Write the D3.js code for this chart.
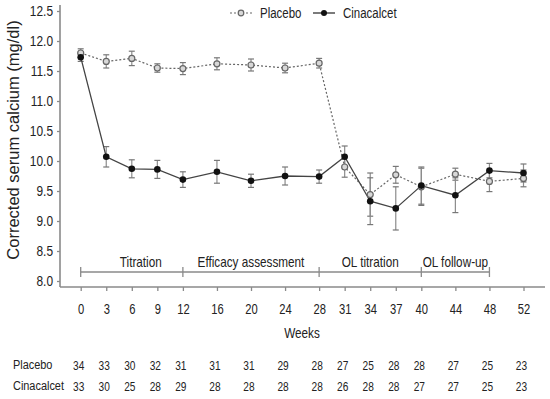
<!DOCTYPE html>
<html>
<head>
<meta charset="utf-8">
<script src="https://cdn.jsdelivr.net/npm/d3@7"></script>
<style>
  body { margin: 0; background: #fff; }
  svg text { font-family: "Liberation Sans", Arial, sans-serif; fill: #222; }
</style>
</head>
<body>
<div id="chart"></div>
<script>
// weeks on the x axis
var weeks = [0, 3, 6, 9, 12, 16, 20, 24, 28, 31, 34, 37, 40, 44, 48, 52];

// mean corrected serum calcium (mg/dl) and error half-widths
var placeboMean = [11.80, 11.66, 11.71, 11.55, 11.54, 11.62, 11.60, 11.55, 11.63, 9.90, 9.44, 9.77, 9.57, 9.78, 9.66, 9.71];
var placeboErr  = [0.07, 0.11, 0.12, 0.07, 0.10, 0.10, 0.10, 0.08, 0.08, 0.17, 0.36, 0.14, 0.31, 0.10, 0.17, 0.14];
var cinaMean    = [11.73, 10.07, 9.87, 9.86, 9.69, 9.82, 9.67, 9.75, 9.74, 10.07, 9.33, 9.21, 9.59, 9.43, 9.84, 9.80];
var cinaErr     = [0.07, 0.17, 0.15, 0.15, 0.13, 0.19, 0.11, 0.15, 0.11, 0.18, 0.39, 0.36, 0.31, 0.29, 0.12, 0.15];

// patients at each visit
var placeboN = [34, 33, 30, 32, 31, 31, 31, 29, 28, 27, 25, 28, 28, 27, 25, 23];
var cinaN    = [33, 30, 25, 28, 29, 28, 28, 28, 28, 26, 28, 28, 27, 27, 25, 23];

// study phases
var phaseNames = ["Titration", "Efficacy assessment", "OL titration", "OL follow-up"];
var phaseEdges = [0, 12, 28, 40, 48];

var yTicks = [8.0, 8.5, 9.0, 9.5, 10.0, 10.5, 11.0, 11.5, 12.0, 12.5];

var width = 550, height = 399;

var svg = d3.select("#chart").append("svg")
  .attr("width", width)
  .attr("height", height);

var x = d3.scaleLinear().domain([0, 52]).range([80.7, 523.5]);
var y = d3.scaleLinear().domain([8, 12.5]).range([281, 11]);

var axisColor = "#8a8a8a";

// the original uses a condensed face; squeeze text horizontally
function condense(sel, k) {
  sel.each(function() {
    var t = d3.select(this);
    var x0 = +t.attr("x") || 0;
    t.attr("x", x0 / k).attr("transform", "scale(" + k + ",1)");
  });
}

// y axis
var yAxis = d3.axisLeft(y)
  .tickValues(yTicks)
  .tickFormat(d3.format(".1f"))
  .tickSize(3)
  .tickSizeOuter(0);

var gy = svg.append("g")
  .attr("transform", "translate(60,0)")
  .call(yAxis);
gy.select(".domain").remove();
gy.selectAll(".tick line").attr("stroke", axisColor).attr("stroke-width", 1.3);
gy.selectAll(".tick text").attr("x", -7).style("font-size", "14px").call(condense, 0.85);

// x axis
var xAxis = d3.axisBottom(x)
  .tickValues(weeks)
  .tickSize(4)
  .tickSizeOuter(0)
  .tickPadding(13);

var gx = svg.append("g")
  .attr("transform", "translate(0,287)")
  .call(xAxis);
gx.select(".domain").remove();
gx.selectAll(".tick line").attr("stroke", axisColor).attr("stroke-width", 1.3);
gx.selectAll(".tick text").style("font-size", "14px").call(condense, 0.8);

// axis lines
svg.append("line")
  .attr("x1", 60).attr("x2", 60).attr("y1", 5).attr("y2", 287)
  .attr("stroke", axisColor).attr("stroke-width", 1.6);
svg.append("line")
  .attr("x1", 60).attr("x2", 545).attr("y1", 287).attr("y2", 287)
  .attr("stroke", axisColor).attr("stroke-width", 1.6);

// axis titles
svg.append("text")
  .attr("transform", "translate(13,140) rotate(-90)")
  .attr("text-anchor", "middle")
  .attr("dominant-baseline", "central")
  .style("font-size", "16.5px")
  .text("Corrected serum calcium (mg/dl)");

svg.append("text")
  .attr("x", 302).attr("y", 333)
  .attr("text-anchor", "middle")
  .attr("dominant-baseline", "central")
  .style("font-size", "14px")
  .text("Weeks")
  .call(condense, 0.84);

// phase bar
var phaseY = 272;
svg.append("line")
  .attr("x1", x(phaseEdges[0])).attr("x2", x(phaseEdges[phaseEdges.length - 1]))
  .attr("y1", phaseY).attr("y2", phaseY)
  .attr("stroke", axisColor).attr("stroke-width", 1.3);

svg.selectAll(".phase-tick")
  .data(phaseEdges)
  .enter().append("line")
  .attr("class", "phase-tick")
  .attr("x1", function(d) { return x(d); })
  .attr("x2", function(d) { return x(d); })
  .attr("y1", phaseY - 5).attr("y2", phaseY + 5)
  .attr("stroke", axisColor).attr("stroke-width", 1.3);

// "Titration" sits a little right of its span's middle in the original
var labelShift = [9, 0, 0, 0];
svg.selectAll(".phase-label")
  .data(phaseNames)
  .enter().append("text")
  .attr("class", "phase-label")
  .attr("x", function(d, i) { return (x(phaseEdges[i]) + x(phaseEdges[i + 1])) / 2 + labelShift[i]; })
  .attr("y", 267)
  .attr("text-anchor", "middle")
  .style("font-size", "14px")
  .text(function(d) { return d; })
  .call(condense, 0.84);

// build series
function makeSeries(means, errs) {
  return weeks.map(function(w, i) {
    return { week: w, mean: means[i], err: errs[i] };
  });
}
var placebo = makeSeries(placeboMean, placeboErr);
var cina = makeSeries(cinaMean, cinaErr);

var line = d3.line()
  .x(function(d) { return x(d.week); })
  .y(function(d) { return y(d.mean); });

function drawErrors(data, cls) {
  var g = svg.append("g").attr("class", cls);
  var e = g.selectAll("g").data(data).enter().append("g");
  e.append("line")
    .attr("x1", function(d) { return x(d.week); })
    .attr("x2", function(d) { return x(d.week); })
    .attr("y1", function(d) { return y(d.mean + d.err); })
    .attr("y2", function(d) { return y(d.mean - d.err); })
    .attr("stroke", "#8c8c8c").attr("stroke-width", 1.2);
  [1, -1].forEach(function(s) {
    e.append("line")
      .attr("x1", function(d) { return x(d.week) - 3; })
      .attr("x2", function(d) { return x(d.week) + 3; })
      .attr("y1", function(d) { return y(d.mean + s * d.err); })
      .attr("y2", function(d) { return y(d.mean + s * d.err); })
      .attr("stroke", "#777").attr("stroke-width", 1.2);
  });
}

drawErrors(placebo, "err-placebo");
drawErrors(cina, "err-cina");

// placebo line (dotted)
svg.append("path")
  .datum(placebo)
  .attr("fill", "none")
  .attr("stroke", "#666")
  .attr("stroke-width", 1.2)
  .attr("stroke-dasharray", "2,2")
  .attr("d", line);

// cinacalcet line
svg.append("path")
  .datum(cina)
  .attr("fill", "none")
  .attr("stroke", "#444")
  .attr("stroke-width", 1.3)
  .attr("d", line);

svg.selectAll(".pt-placebo")
  .data(placebo)
  .enter().append("circle")
  .attr("class", "pt-placebo")
  .attr("cx", function(d) { return x(d.week); })
  .attr("cy", function(d) { return y(d.mean); })
  .attr("r", 3)
  .attr("fill", "#d8d8d8")
  .attr("stroke", "#666")
  .attr("stroke-width", 1.2);

svg.selectAll(".pt-cina")
  .data(cina)
  .enter().append("circle")
  .attr("class", "pt-cina")
  .attr("cx", function(d) { return x(d.week); })
  .attr("cy", function(d) { return y(d.mean); })
  .attr("r", 3.3)
  .attr("fill", "#111");

// legend
var legY = 13;
svg.append("line")
  .attr("x1", 230).attr("x2", 252).attr("y1", legY).attr("y2", legY)
  .attr("stroke", "#666").attr("stroke-width", 1.2).attr("stroke-dasharray", "2,2");
svg.append("circle")
  .attr("cx", 241).attr("cy", legY).attr("r", 2.8)
  .attr("fill", "#d8d8d8").attr("stroke", "#666").attr("stroke-width", 1.2);
svg.append("text")
  .attr("x", 260).attr("y", legY)
  .attr("dominant-baseline", "central")
  .style("font-size", "14px")
  .text("Placebo")
  .call(condense, 0.82);

svg.append("line")
  .attr("x1", 313).attr("x2", 335).attr("y1", legY).attr("y2", legY)
  .attr("stroke", "#333").attr("stroke-width", 1.3);
svg.append("circle")
  .attr("cx", 324).attr("cy", legY).attr("r", 3)
  .attr("fill", "#111");
svg.append("text")
  .attr("x", 343).attr("y", legY)
  .attr("dominant-baseline", "central")
  .style("font-size", "14px")
  .text("Cinacalcet")
  .call(condense, 0.82);

// number-at-risk table
var rows = [
  { name: "Placebo", values: placeboN, y: 365 },
  { name: "Cinacalcet", values: cinaN, y: 386 }
];

rows.forEach(function(r) {
  svg.append("text")
    .attr("x", 13).attr("y", r.y)
    .attr("dominant-baseline", "central")
    .style("font-size", "13.5px")
    .text(r.name)
    .call(condense, 0.81);
  svg.selectAll(null)
    .data(r.values)
    .enter().append("text")
    .attr("x", function(d, i) { return x(weeks[i]) - 2; })
    .attr("y", r.y)
    .attr("text-anchor", "middle")
    .attr("dominant-baseline", "central")
    .style("font-size", "13.5px")
    .text(function(d) { return d; })
    .call(condense, 0.75);
});
</script>
</body>
</html>
